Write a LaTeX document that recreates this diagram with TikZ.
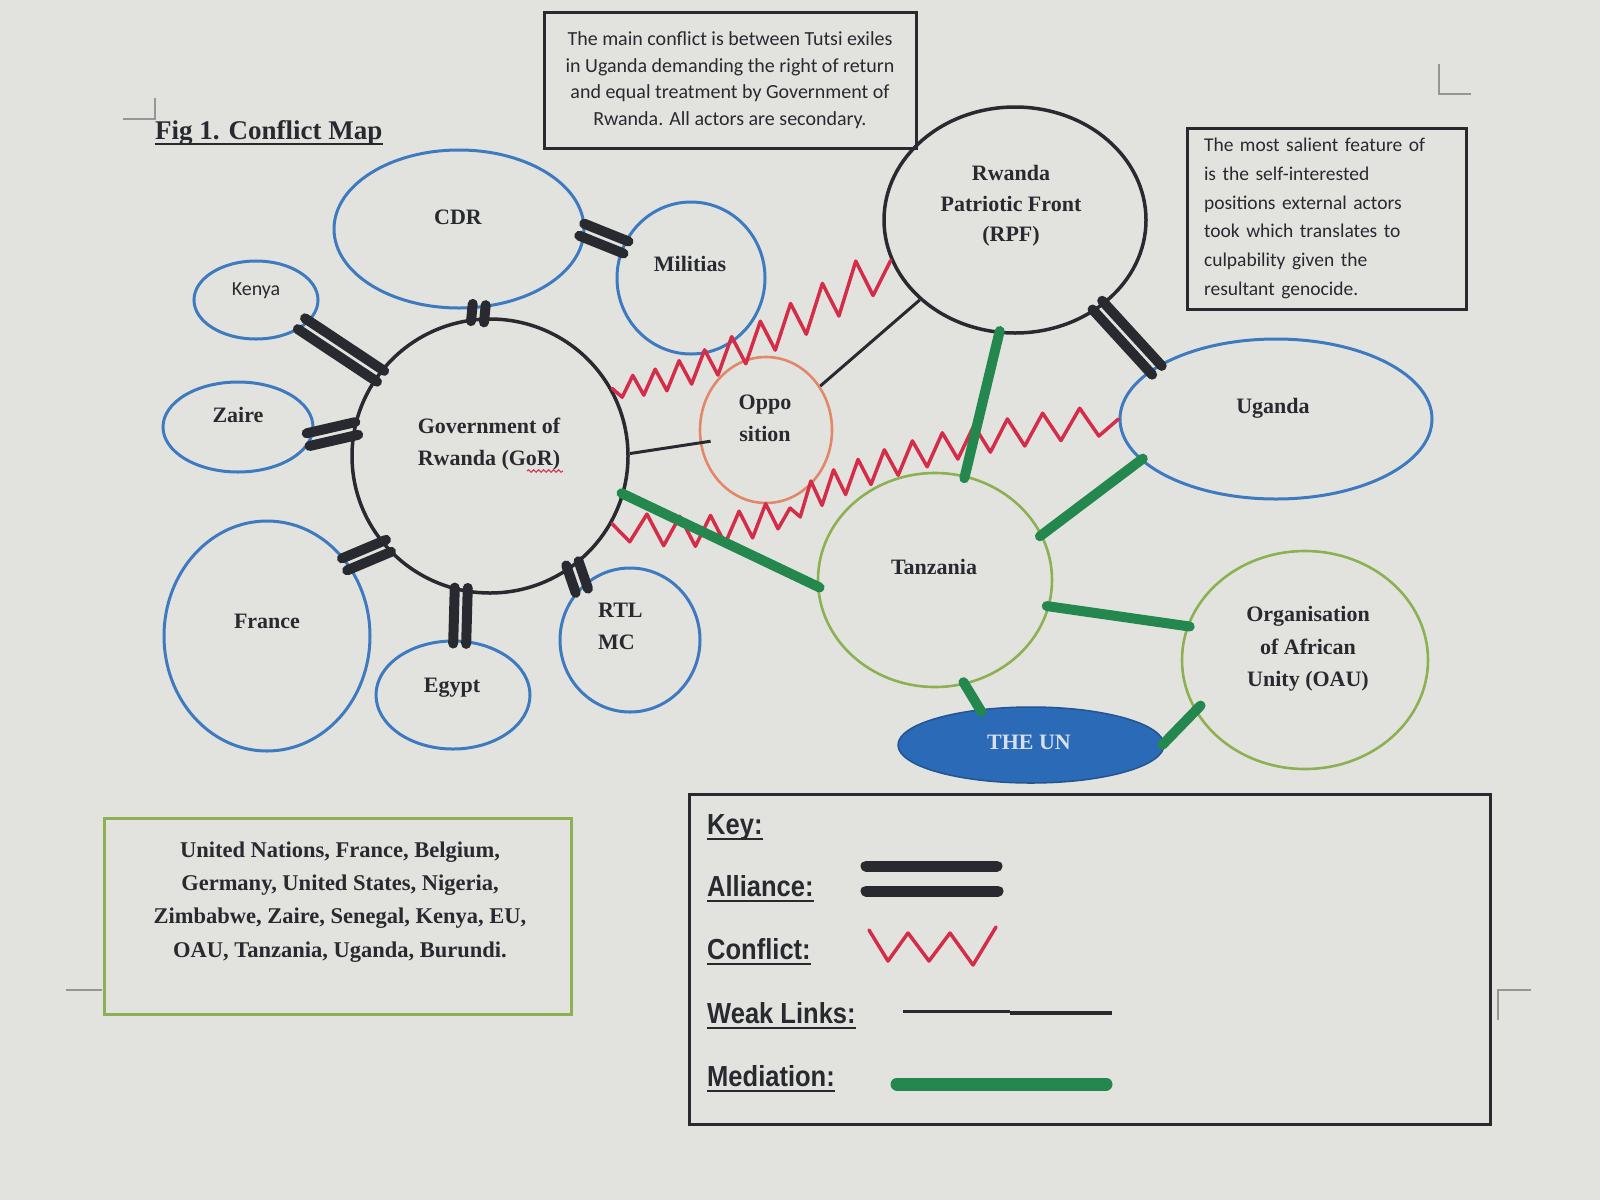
\documentclass[tikz,border=0pt]{standalone}
\usepackage{fontspec}
\setmainfont{Liberation Serif}
\newfontfamily\calib{Carlito}
\newfontfamily\arialf{Liberation Sans}
\usetikzlibrary{shapes.geometric,calc,decorations.pathmorphing}
\definecolor{paper}{RGB}{226,227,223}
\definecolor{ink}{RGB}{40,42,48}
\definecolor{eblue}{RGB}{62,122,192}
\definecolor{cred}{RGB}{212,45,72}
\definecolor{mgreen}{RGB}{36,136,78}
\definecolor{lgreen}{RGB}{140,176,82}
\definecolor{salmon}{RGB}{226,136,106}
\definecolor{unfill}{RGB}{42,106,182}
\definecolor{untext}{RGB}{216,223,233}
\definecolor{cropgray}{RGB}{150,150,150}
\tikzset{
 ent/.style={ellipse, inner sep=0pt, line width=3pt},
 bluent/.style={ent, draw=eblue},
 blackent/.style={ent, draw=ink, line width=3.5pt},
 greenent/.style={ent, draw=lgreen, line width=2.6pt},
 lab/.style={font=\fontsize{22}{32}\selectfont\bfseries, text=ink, inner sep=0pt, align=center},
 ally/.style={draw=ink, line width=10pt, line cap=round, shorten <=-4pt, shorten >=-4pt},
 medi/.style={draw=mgreen, line width=10pt, line cap=round, shorten <=-3pt, shorten >=-3pt},
 weak/.style={draw=ink, line width=3pt},
 conflict/.style={draw=cred, line width=3.5pt, line join=round, line cap=round},
 txtbox/.style={draw=ink, line width=3pt, inner sep=0pt, text=ink},
 keylab/.style={anchor=base west, inner sep=0pt, font=\arialf\bfseries\fontsize{29}{29}\selectfont, text=ink},
 uline/.style={draw=ink, line width=2.2pt},
 crop/.style={draw=cropgray, line width=1.2pt},
}
\newcommand\allylink[2]{%
 \draw[ally] ($(#1)!6.5pt!90:(#2)$) -- ($(#2)!6.5pt!-90:(#1)$);
 \draw[ally] ($(#1)!6.5pt!-90:(#2)$) -- ($(#2)!6.5pt!90:(#1)$);}
% zigzag with vertical teeth along a quadratic curve: start, control, end, n, n-1, amplitude
\newcommand\zzquad[6]{%
 \draw[conflict] (#1) \foreach \k in {1,...,#5}{ -- ($($(#1)!\k/#4!(#2)$)!\k/#4!($(#2)!\k/#4!(#3)$) + (0,{(2*mod(\k,2)-1)*#6})$) } -- (#3);}
\begin{document}
\begin{tikzpicture}[x=1pt,y=-1pt]
\fill[paper] (0,0) rectangle (1600,1200);
\useasboundingbox (0,0) rectangle (1600,1200);

% crop marks
\draw[crop] (123,119) -- (155,119) -- (155,98);
\draw[crop] (1439,64) -- (1439,94) -- (1471,94);
\draw[crop] (66,990) -- (102,990);
\draw[crop] (1531,990) -- (1498,990) -- (1498,1020);

% title
\node[anchor=base west, inner sep=0pt, font=\fontsize{27}{27}\selectfont\bfseries, text=ink] (title) at (155,139) {Fig 1. Conflict Map};
\draw[uline] ([yshift=-5pt]title.base west) -- ([yshift=-5pt]title.base east);

% text boxes
\node[txtbox, minimum width=372pt, minimum height=136pt, align=center,
      font=\calib\fontsize{20}{26.5}\selectfont] (topbox) at (730,80)
 {The main conflict is between Tutsi exiles\\ in Uganda demanding the right of return\\ and equal treatment by Government of\\ Rwanda. All actors are secondary.};
\node[txtbox, minimum width=279pt, minimum height=181pt, text width=245pt, align=left,
      font=\calib\fontsize{19.5}{28.8}\selectfont] (notebox) at (1326.5,218.5)
 {The most salient feature of\\ is the self-interested\\ positions external actors\\ took which translates to\\ culpability given the\\ resultant genocide.};

% entities
\node[bluent, minimum width=250pt, minimum height=158pt] (cdr) at (459,229) {};
\node[bluent, minimum width=148pt, minimum height=152pt] (militias) at (691,278) {};
\node[bluent, minimum width=124pt, minimum height=78pt] (kenya) at (256,300) {};
\node[bluent, minimum width=150pt, minimum height=90pt] (zaire) at (238,427) {};
\node[blackent, minimum width=276pt, minimum height=274pt] (gor) at (490,456) {};
\node[bluent, minimum width=206pt, minimum height=230pt] (france) at (267,636) {};
\node[bluent, minimum width=154pt, minimum height=108pt] (egypt) at (453,695) {};
\node[bluent, minimum width=140pt, minimum height=144pt] (rtlmc) at (630,640) {};
\node[ent, draw=salmon, line width=2.6pt, minimum width=132pt, minimum height=146pt] (opp) at (766,430) {};
\node[blackent, minimum width=262pt, minimum height=226pt] (rpf) at (1015,220) {};
\node[bluent, minimum width=312pt, minimum height=160pt] (uganda) at (1276,419) {};
\node[greenent, minimum width=234pt, minimum height=214pt] (tanz) at (935,580) {};
\node[greenent, minimum width=246pt, minimum height=218pt] (oau) at (1305,660) {};
\node[ent, draw=unfill!80!black, fill=unfill, line width=1.5pt, minimum width=266pt, minimum height=76pt] (un) at (1031,745) {};

% labels
\node[lab] (cdr-t) at (458,217) {CDR};
\node[lab] (militias-t) at (690,264) {Militias};
\node[lab, font=\calib\fontsize{20}{24}\selectfont] (kenya-t) at (256,291) {Kenya};
\node[lab] (zaire-t) at (238,415) {Zaire};
\node[lab] (gor-t) at (489,444) {Government of\\ Rwanda (GoR)};
\draw[cred, line width=1pt, decorate, decoration={snake, amplitude=1.3pt, segment length=5pt}] (527,471) -- (563,471);
\node[lab] (france-t) at (267,621) {France};
\node[lab] (egypt-t) at (452,688) {Egypt};
\node[lab, align=left, anchor=west] (rtlmc-t) at (598,626) {RTL\\ MC};
\node[lab] (opp-t) at (765,418) {Oppo\\ sition};
\node[lab, font=\fontsize{22}{30.5}\selectfont\bfseries] (rpf-t) at (1011,206) {Rwanda\\ Patriotic Front\\ (RPF)};
\node[lab] (uganda-t) at (1273,408) {Uganda};
\node[lab] (tanz-t) at (934,567) {Tanzania};
\node[lab, font=\fontsize{22}{32.6}\selectfont\bfseries] (oau-t) at (1308,649) {Organisation\\ of African\\ Unity (OAU)};
\node[lab, text=untext] (un-t) at (1029,742) {THE UN};

% conflict
\coordinate (z1c) at (712,382);
\coordinate (z2c1) at (720,545);
\coordinate (z2m) at (790,508);
\coordinate (z2c2) at (900,440);
\zzquad{gor.29}{z1c}{rpf.198}{20}{19}{(9+15*\k/20)}
\zzquad{gor.-29}{z2c1}{z2m}{12}{11}{15}
\zzquad{z2m}{z2c2}{uganda.180}{22}{21}{15}

% weak links
\draw[weak, shorten >=-11pt] (gor.1) -- (opp.191);
\draw[weak] (opp.39) -- (rpf.220);

% mediation
\draw[medi] (gor.-16) -- (tanz.183.6);
\draw[medi] (rpf.262) -- (tanz.74.8);
\draw[medi] (uganda.197.5) -- (tanz.23.9);
\draw[medi] (tanz.-13) -- (oau.164.5);
\draw[medi] (tanz.-74) -- (un.145.5);
\draw[medi, shorten >=-8pt] (un.1) -- (oau.205);

% alliances
\allylink{cdr.-1}{militias.155}
\allylink{cdr.-76}{gor.95}
\allylink{kenya.-28}{gor.144}
\allylink{zaire.-9}{gor.169}
\allylink{france.42}{gor.221}
\allylink{egypt.83}{gor.-102}
\allylink{gor.-53}{rtlmc.133}
\allylink{rpf.-46.7}{uganda.157.2}

% bottom-left box
\node[draw=lgreen, line width=3pt, minimum width=467pt, minimum height=196pt, inner sep=0pt] (greenbox) at (337.5,916) {};
\node[lab, font=\fontsize{22.5}{33.2}\selectfont\bfseries] (greenbox-t) at (340,902)
 {United Nations, France, Belgium,\\ Germany, United States, Nigeria,\\ Zimbabwe, Zaire, Senegal, Kenya, EU,\\ OAU, Tanzania, Uganda, Burundi.};

% key
\node[draw=ink, line width=3pt, minimum width=801pt, minimum height=330pt, inner sep=0pt] (keybox) at (1089.5,959) {};
\node[keylab] (k0) at (707,834) {\scalebox{0.88}[1]{Key:}};
\node[keylab] (k1) at (707,896) {\scalebox{0.88}[1]{Alliance:}};
\node[keylab] (k2) at (707,959) {\scalebox{0.88}[1]{Conflict:}};
\node[keylab] (k3) at (707,1023) {\scalebox{0.88}[1]{Weak Links:}};
\node[keylab] (k4) at (707,1086) {\scalebox{0.88}[1]{Mediation:}};
\foreach \n in {k0,k1,k2,k3,k4}{\draw[uline] ([yshift=-5pt]\n.base west) -- ([yshift=-5pt]\n.base east);}
\draw[draw=ink, line width=11pt, line cap=round] (866,866) -- (997,866);
\draw[draw=ink, line width=11pt, line cap=round] (866,891) -- (998,891);
\draw[conflict] (869,930) -- (888,961) -- (908,933) -- (929,961) -- (950,933) -- (973,965) -- (996,927);
\draw[draw=ink, line width=3pt] (903,1011) -- (1010,1011);
\draw[draw=ink, line width=4pt] (1010,1013) -- (1112,1013);
\draw[draw=mgreen, line width=13pt, line cap=round] (897,1084) -- (1106,1084);
\end{tikzpicture}
\end{document}
